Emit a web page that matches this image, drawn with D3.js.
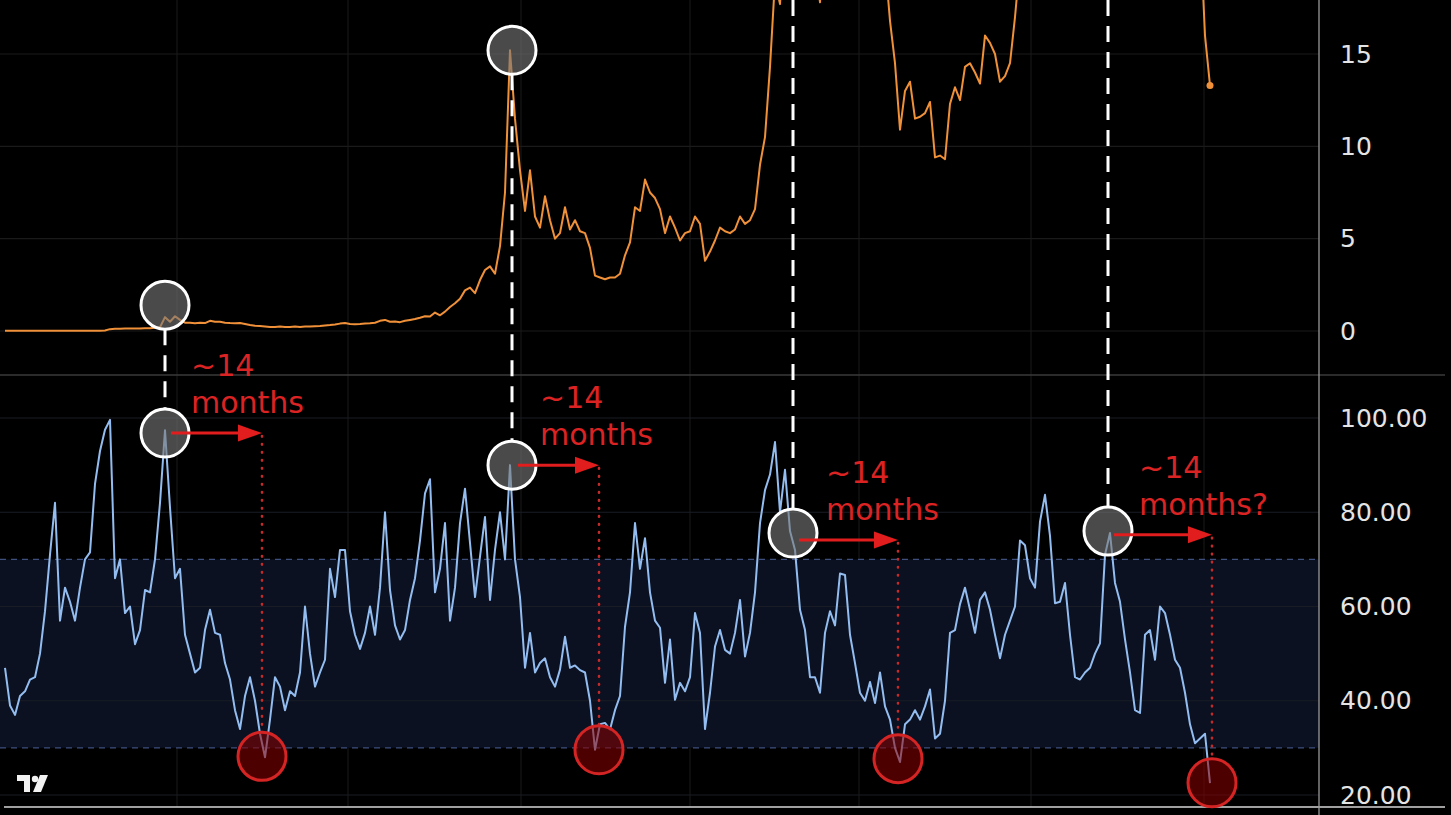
<!DOCTYPE html>
<html>
<head>
<meta charset="utf-8">
<script src="https://cdn.jsdelivr.net/npm/d3@7"></script>
<style>
  html, body { margin: 0; padding: 0; background: #000; }
  svg { display: block; }
</style>
</head>
<body>
<svg id="chart" width="1451" height="815"></svg>
<script>
// ---------- DATA (one value every bar-step, index 0..241) ----------
const priceSeries = [
  0.02,0.02,0.02,0.02,0.02,0.02,0.02,0.02,0.02,0.02,
  0.02,0.02,0.02,0.02,0.02,0.02,0.02,0.02,0.02,0.02,
  0.03,0.1,0.12,0.12,0.13,0.13,0.14,0.14,0.15,0.15,
  0.18,0.2,0.75,0.5,0.8,0.6,0.45,0.45,0.42,0.45,
  0.43,0.55,0.5,0.5,0.45,0.43,0.42,0.43,0.38,0.32,
  0.28,0.27,0.25,0.22,0.22,0.24,0.22,0.22,0.24,0.22,
  0.24,0.25,0.26,0.27,0.3,0.32,0.35,0.4,0.43,0.38,
  0.37,0.38,0.4,0.42,0.45,0.55,0.6,0.5,0.52,0.48,
  0.55,0.6,0.65,0.72,0.8,0.78,1.0,0.85,1.05,1.3,
  1.5,1.75,2.2,2.35,2.05,2.76,3.3,3.5,3.1,4.6,
  7.5,15.2,11.5,8.7,6.5,8.7,6.2,5.6,7.3,6.0,
  5.0,5.3,6.7,5.5,6.0,5.4,5.3,4.5,3.0,2.9,
  2.8,2.9,2.9,3.1,4.1,4.8,6.7,6.5,8.2,7.5,
  7.2,6.6,5.3,6.2,5.6,4.9,5.3,5.4,6.2,5.8,
  3.8,4.3,4.9,5.6,5.4,5.3,5.5,6.2,5.8,6.0,
  6.6,9.0,10.5,14.3,19,17.7,22,25,28,30,
  26,24,20,17.8,22,26,30,35,33,30,
  28,31,29,26,24,22,20,16.8,14.5,10.9,
  13.0,13.5,11.5,11.6,11.8,12.4,9.4,9.5,9.3,12.3,
  13.2,12.5,14.3,14.5,14.0,13.4,16.0,15.6,15.0,13.5,
  13.8,14.5,17.0,20,24,28,32,36,40,45,
  50,48,55,60,58,62,55,50,45,42,
  40,38,36,35,33,30,28,25,22,24,
  27,30,28,26,24,22,21,20,20,22,
  16,13.3
];

const rsiSeries = [
  47,39,37,41,42,44.5,45,50,59,71,
  82,57,64,61,57,64,70,71.5,86,93,
  97.5,99.6,66,70,58.6,60,52,55,63.5,63,
  70,82,97.4,81,66,68,54,50,46,47,
  55,59.3,54.4,54,48,44.5,38,34,41,45,
  40,33,28,36,45,43,38,42,41,46,
  60,50,43,46,48.7,68,62,72,72,59,
  54,51,54.4,60,54,64,80,63.5,56,53,
  55,61.4,66,74,84,87,63,68,77.7,57,
  64,77.7,85,73.5,62,70.6,79,61.4,72,80,
  70,90,70,62,47,54.4,46,48,49,45,
  43,46.6,53.6,47,47.5,46.5,46,40,29.6,35,
  35.3,33.9,38,41,55.7,63,77.7,68,74.5,63,
  57,55.5,43.8,53,40.2,43.8,42,45,58.6,54.4,
  34,41.7,51.5,55,50.8,50,54.4,61.4,49.4,54.4,
  63,77.7,84.7,88,94.9,80,89,76,72,59.3,
  55,45,45,41.7,54.4,59,56,67,66.7,54,
  48,41.7,40,44,39.5,46,38.8,36,30,27,
  35,36,38,36,38.8,42.4,32,33,40,54.4,
  55,60.5,64,59.3,54.4,61.4,63,59.3,54,49,
  54,57,60,74,73,66,64,78,83.7,75,
  60.7,61,65,54,45,44.5,46,47,50,52.2,
  71,75.6,65,61,53,46,38,37.4,54,55,
  48.7,60,58.6,54,48.7,47,41.7,35,31,32,
  33,22.5
];

const priceTicks = [0, 5, 10, 15];
const rsiTicks = [20, 40, 60, 80, 100];
const rsiBand = [30, 70];
const timeGrid = [34.4, 68.6, 103.2, 137, 170.8, 205.2, 239.8];

// annotations (in data terms: bar index + value)
const peakIdx      = [32, 101.4, 157.6, 220.6];
const peakPriceVal = [1.4, 15.2, null, null];
const peakRsiVal   = [96.8, 90.0, 75.6, 76.0];
const arrowRsiVal  = [96.8, 90.0, 74.1, 75.2];
const troughIdx    = [51.4, 118.8, 178.6, 241.4];
const troughRsiVal = [28.2, 29.6, 27.7, 22.6];
const labelTop     = ["~14", "~14", "~14", "~14"];
const labelBottom  = ["months", "months", "months", "months?"];
const labelDx      = [26, 28, 33, 31];

// ---------- LAYOUT ----------
const W = 1451, H = 815;
const axisX = 1319;
const sepY = 375, bottomY = 807;
const FONT = "'DejaVu Sans', Verdana, sans-serif";

const svg = d3.select("#chart");
svg.append("rect").attr("width", W).attr("height", H).attr("fill", "#000");

const x = d3.scaleLinear().domain([-1, 262.8]).range([0, axisX]);
const yP = d3.scaleLinear().domain([0, 15]).range([331, 54]);
const yR = d3.scaleLinear().domain([20, 100]).range([795, 418]);

const defs = svg.append("defs");
defs.append("clipPath").attr("id", "clipTop").append("rect")
  .attr("x", 0).attr("y", 0).attr("width", axisX).attr("height", sepY);
defs.append("clipPath").attr("id", "clipBot").append("rect")
  .attr("x", 0).attr("y", sepY).attr("width", axisX).attr("height", bottomY - sepY);

// ---------- GRID ----------
const grid = svg.append("g");
grid.selectAll(".vg").data(timeGrid).join("line")
  .attr("x1", d => x(d)).attr("x2", d => x(d))
  .attr("y1", 0).attr("y2", bottomY)
  .attr("stroke", "#161616").attr("stroke-width", 1.2);
grid.selectAll(".hgp").data(priceTicks).join("line")
  .attr("x1", 0).attr("x2", axisX)
  .attr("y1", d => yP(d)).attr("y2", d => yP(d))
  .attr("stroke", "#1a1a1a").attr("stroke-width", 1.2);

// RSI band
svg.append("rect")
  .attr("x", 0).attr("width", axisX)
  .attr("y", yR(rsiBand[1])).attr("height", yR(rsiBand[0]) - yR(rsiBand[1]))
  .attr("fill", "#0b1120");
grid.clone ? null : null;
svg.append("g").selectAll("line").data(rsiTicks).join("line")
  .attr("x1", 0).attr("x2", axisX)
  .attr("y1", d => yR(d)).attr("y2", d => yR(d))
  .attr("stroke", "#191c24").attr("stroke-width", 1.2);
svg.append("g").selectAll("line").data(rsiBand).join("line")
  .attr("x1", 0).attr("x2", axisX)
  .attr("y1", d => yR(d)).attr("y2", d => yR(d))
  .attr("stroke", "#3f4f7e").attr("stroke-width", 1.3)
  .attr("stroke-dasharray", "6,5");

// panel frame lines
svg.append("line").attr("x1", 0).attr("x2", 1445).attr("y1", sepY).attr("y2", sepY)
  .attr("stroke", "#3a3a3a").attr("stroke-width", 1.5);
svg.append("line").attr("x1", 4).attr("x2", 1445).attr("y1", bottomY).attr("y2", bottomY)
  .attr("stroke", "#d6d6d6").attr("stroke-width", 1.5);
svg.append("line").attr("x1", axisX).attr("x2", axisX).attr("y1", 0).attr("y2", H)
  .attr("stroke", "#9a9a9a").attr("stroke-width", 1.3);

// ---------- SERIES ----------
const priceLine = d3.line().x((d, i) => x(i)).y(d => yP(d));
svg.append("path").datum(priceSeries)
  .attr("clip-path", "url(#clipTop)")
  .attr("d", priceLine)
  .attr("fill", "none").attr("stroke", "#f0913a").attr("stroke-width", 2)
  .attr("stroke-linejoin", "round");
svg.append("circle")
  .attr("cx", x(priceSeries.length - 1)).attr("cy", yP(priceSeries[priceSeries.length - 1]))
  .attr("r", 3.5).attr("fill", "#f0913a");

const rsiLine = d3.line().x((d, i) => x(i)).y(d => yR(d));
svg.append("path").datum(rsiSeries)
  .attr("clip-path", "url(#clipBot)")
  .attr("d", rsiLine)
  .attr("fill", "none").attr("stroke", "#93bdf0").attr("stroke-width", 2)
  .attr("stroke-linejoin", "round");

// ---------- ANNOTATIONS ----------
const R = 24;
const ann = svg.append("g");

// white dashed connectors
peakIdx.forEach((pi, k) => {
  const cx = x(pi);
  const yStart = peakPriceVal[k] == null ? 0 : yP(peakPriceVal[k]) + R;
  const yEnd = yR(peakRsiVal[k]) - R;
  ann.append("line")
    .attr("x1", cx).attr("x2", cx).attr("y1", yStart).attr("y2", yEnd)
    .attr("stroke", "#fff").attr("stroke-width", 3)
    .attr("stroke-dasharray", "16,10");
});

// grey circles
const greyCircles = [];
peakIdx.forEach((pi, k) => {
  if (peakPriceVal[k] != null) greyCircles.push([x(pi), yP(peakPriceVal[k])]);
  greyCircles.push([x(pi), yR(peakRsiVal[k])]);
});
ann.selectAll(".gc").data(greyCircles).join("circle")
  .attr("cx", d => d[0]).attr("cy", d => d[1]).attr("r", R)
  .attr("fill", "rgba(120,120,120,0.62)")
  .attr("stroke", "#fff").attr("stroke-width", 3);

// red dotted drops, arrows, red circles, labels
peakIdx.forEach((pi, k) => {
  const ax0 = x(pi) + 6;
  const tx = x(troughIdx[k]);
  const ay = yR(arrowRsiVal[k]);
  const ry = yR(troughRsiVal[k]);

  ann.append("line")
    .attr("x1", tx).attr("x2", tx).attr("y1", ay + 3).attr("y2", ry - R)
    .attr("stroke", "#c42a2a").attr("stroke-width", 2.6)
    .attr("stroke-linecap", "round")
    .attr("stroke-dasharray", "0.5,7.5");

  ann.append("circle")
    .attr("cx", tx).attr("cy", ry).attr("r", R)
    .attr("fill", "rgba(140,0,0,0.55)")
    .attr("stroke", "#d42424").attr("stroke-width", 3);

  ann.append("line")
    .attr("x1", ax0).attr("x2", tx - 20).attr("y1", ay).attr("y2", ay)
    .attr("stroke", "#e11d1d").attr("stroke-width", 3);
  ann.append("path")
    .attr("d", `M${tx},${ay} L${tx - 24},${ay - 8.5} L${tx - 24},${ay + 8.5} Z`)
    .attr("fill", "#e11d1d");

  const lx = x(pi) + labelDx[k];
  ann.append("text").attr("x", lx).attr("y", ay - 57)
    .attr("font-family", FONT).attr("font-size", 30).attr("fill", "#dc2323")
    .text(labelTop[k]);
  ann.append("text").attr("x", lx).attr("y", ay - 20)
    .attr("font-family", FONT).attr("font-size", 30).attr("fill", "#dc2323")
    .text(labelBottom[k]);
});

// ---------- AXES ----------
const axP = d3.axisRight(yP).tickValues(priceTicks).tickSize(0).tickPadding(21)
  .tickFormat(d3.format("d"));
const gP = svg.append("g").attr("transform", `translate(${axisX},0)`).call(axP);
const axR = d3.axisRight(yR).tickValues(rsiTicks).tickSize(0).tickPadding(21)
  .tickFormat(d3.format(".2f"));
const gR = svg.append("g").attr("transform", `translate(${axisX},0)`).call(axR);
[gP, gR].forEach(g => {
  g.select(".domain").remove();
  g.selectAll("text")
    .attr("font-family", FONT).attr("font-size", 25).attr("fill", "#e4e4e4");
});

// ---------- LOGO ----------
const logo = svg.append("g").attr("fill", "#f2f2f2");
logo.append("path").attr("d", "M17,775 L30,775 L30,792 L24,792 L24,781 L17,781 Z");
logo.append("circle").attr("cx", 35).attr("cy", 779).attr("r", 3.2);
logo.append("path").attr("d", "M40,775 L48,775 L41,792 L33,792 Z");
</script>
</body>
</html>
